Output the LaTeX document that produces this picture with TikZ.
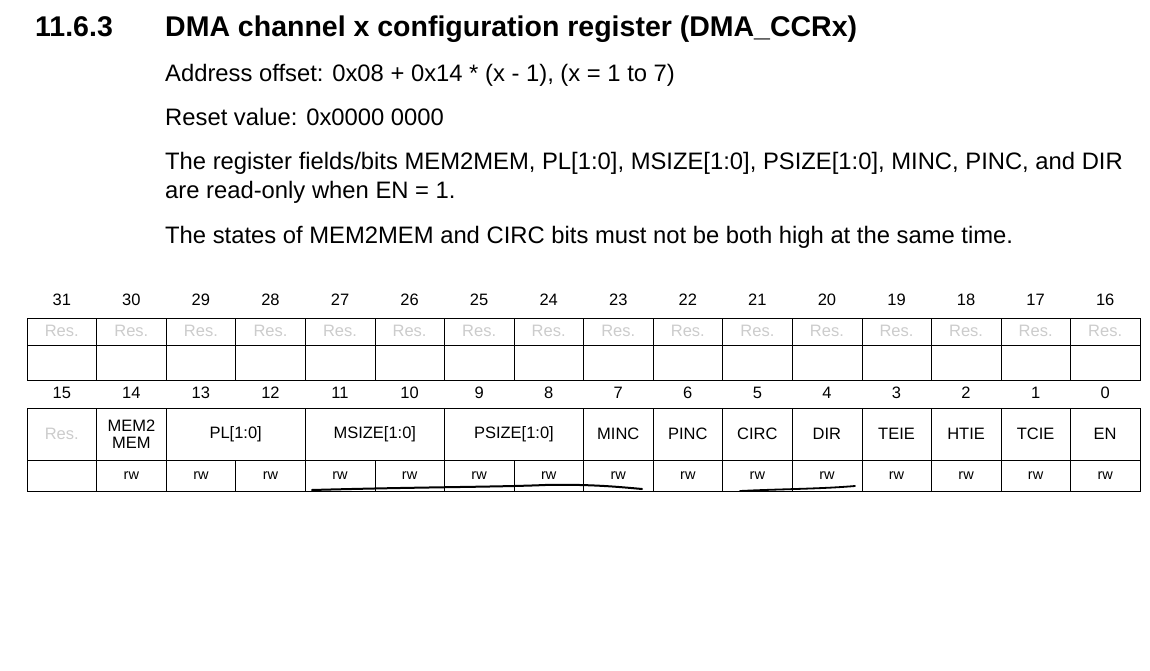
\documentclass[tikz,border=0pt]{standalone}
\usepackage{fontspec}
\setmainfont{Liberation Sans}
\usetikzlibrary{positioning}
\tikzset{
  bitnum/.style={font=\fontsize{16.5}{19}\selectfont},
  field/.style={font=\fontsize{16.5}{17}\selectfont,align=center},
  resv/.style={font=\fontsize{16.5}{19}\selectfont,text=black!20},
  body/.style={font=\fontsize{23.8}{28}\selectfont,anchor=base west,align=left},
}
\begin{document}
\begin{tikzpicture}[x=1pt,y=-1pt]
				\useasboundingbox[fill=white] (0,0) rectangle (1150,671);
				% heading
				\node[anchor=base west,font=\bfseries\fontsize{28.5}{32}\selectfont,inner sep=0] (sec) at (35,37) {11.6.3};
				\node[anchor=base west,font=\bfseries\fontsize{28.5}{32}\selectfont,inner sep=0] (title) at (165,37) {DMA channel x configuration register (DMA\_CCRx)};
				\node[body,inner sep=0] (addr) at (165,82) {Address offset: 0x08 + 0x14 * (x - 1), (x = 1 to 7)};
				\node[body,inner sep=0] (reset) at (165,126) {Reset value: 0x0000 0000};
				\node[body,inner sep=0] (note) at (165,170) {The register fields/bits MEM2MEM, PL[1:0], MSIZE[1:0], PSIZE[1:0], MINC, PINC, and DIR};
				\node[body,inner sep=0] (note2) at (165,198) {are read-only when EN = 1.};
				\node[body,inner sep=0] (states) at (165,243) {The states of MEM2MEM and CIRC bits must not be both high at the same time.};
				
				% upper half: bits 31..16
				\foreach \i in {0,...,15}{
					\pgfmathtruncatemacro{\b}{31-\i}
					\node[bitnum] (u\i) at ({27+69.56*(\i+0.5)},300) {\b};
					\node[resv] (r\i) at ({27+69.56*(\i+0.5)},331) {Res.};
				}
				\draw (27,318) rectangle (1140,380);
				\draw (27,345) -- (1140,345);
				\foreach \i in {1,...,15}{
					\draw ({27+69.56*\i},318) -- ({27+69.56*\i},380);
				}
				
				% lower half: bits 15..0
				\foreach \i in {0,...,15}{
					\pgfmathtruncatemacro{\b}{15-\i}
					\node[bitnum] (l\i) at ({27+69.56*(\i+0.5)},393) {\b};
				}
				\draw (27,408) rectangle (1140,491);
				\draw (27,460) -- (1140,460);
				\foreach \i in {1,...,15}{
					\draw ({27+69.56*\i},460) -- ({27+69.56*\i},491);
				}
				\foreach \i in {1,2,4,6,8,9,10,11,12,13,14,15}{
					\draw ({27+69.56*\i},408) -- ({27+69.56*\i},460);
				}
				\foreach \i in {1,...,15}{
					\node[bitnum,font=\fontsize{14.5}{16}\selectfont] (rw\i) at ({27+69.56*(\i+0.5)},476) {rw};
				}
				% fields
				\node[resv] (f15) at ({27+69.56*0.5},434) {Res.};
				\node[field] (f14) at ({27+69.56*1.5},434) {MEM2\\MEM};
				\foreach \n/\c/\t in {pl/3/PL[1:0], msize/5/MSIZE[1:0], psize/7/PSIZE[1:0]}{
					\node[field] (\n) at ({27+69.56*\c},434) {\t};
				}
				\foreach \n/\c/\t in {minc/8/MINC, pinc/9/PINC, circ/10/CIRC, dir/11/DIR, teie/12/TEIE, htie/13/HTIE, tcie/14/TCIE, en/15/EN}{
					\node[field] (\n) at ({27+69.56*(\c+0.5)},434) {\t};
				}
				
				% pen marks
				\draw[line width=2pt,line cap=round] (312,490) .. controls (420,487) and (500,487) .. (545,485) .. controls (590,484) and (620,487) .. (642,489);
				\draw[line width=1.8pt,line cap=round] (740,491) .. controls (780,489) and (820,489) .. (855,486);
			\end{tikzpicture}
\end{document}
